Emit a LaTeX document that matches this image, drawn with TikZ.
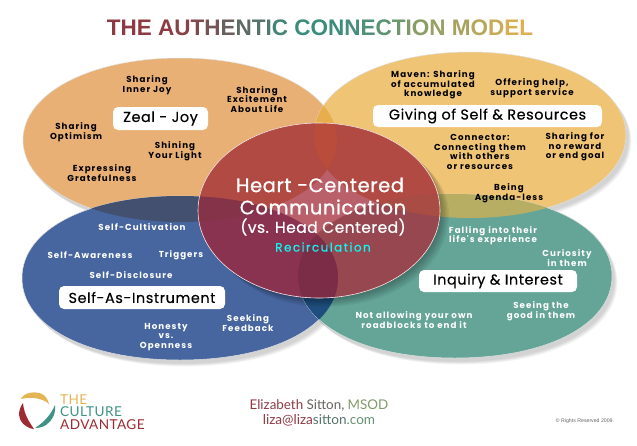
\documentclass[tikz,border=0pt]{standalone}
\usepackage{fontspec}
\usetikzlibrary{calc}
\setmainfont{Poppins}
\newfontfamily\itemfont[LetterSpace=12]{Poppins}
\newfontfamily\headfont[LetterSpace=4,FakeBold=0.3]{Poppins}
\newfontfamily\midfont[LetterSpace=3,FakeBold=0.9]{Poppins}
\newfontfamily\recfont[LetterSpace=12,FakeBold=0.5]{Poppins}
\newfontfamily\titlefont{Liberation Sans Bold}
\newfontfamily\footfont{Lato}
\newfontfamily\logofont[LetterSpace=3]{Lato}
\newfontfamily\copyfont{Liberation Sans}
\definecolor{cOr}{HTML}{E8B074}
\definecolor{cYe}{HTML}{EFC475}
\definecolor{cBl}{HTML}{47659F}
\definecolor{cTe}{HTML}{64A598}
\definecolor{cOY}{HTML}{E8AE4E}
\definecolor{cOB}{HTML}{44506F}
\definecolor{cYT}{HTML}{B8AE63}
\definecolor{cBT}{HTML}{1F4E7E}
\definecolor{rBase}{HTML}{B04A43}
\definecolor{rOY}{HTML}{BA4C3C}
\definecolor{rBl}{HTML}{8A3350}
\definecolor{rTe}{HTML}{96474F}
\definecolor{rBT}{HTML}{7B2C47}
\definecolor{rOB}{HTML}{853349}
\definecolor{rYT}{HTML}{A94C44}
\definecolor{rAll}{HTML}{BA606A}
\definecolor{tRed}{HTML}{8E3A42}
\definecolor{tTeal}{HTML}{3C8C7C}
\definecolor{tGold}{HTML}{E0B050}
\definecolor{lGold}{HTML}{E5B455}
\definecolor{lTeal}{HTML}{3F9385}
\definecolor{lRed}{HTML}{9E2B33}
\definecolor{cCyan}{HTML}{10F5F0}
\newcommand{\blob}[5]{(#1-#3,#2) .. controls (#1-#3,#2-#5*#4) and (#1-#5*#3,#2-#4) .. (#1,#2-#4) .. controls (#1+#5*#3,#2-#4) and (#1+#3,#2-#5*#4) .. (#1+#3,#2) .. controls (#1+#3,#2+#5*#4) and (#1+#5*#3,#2+#4) .. (#1,#2+#4) .. controls (#1-#5*#3,#2+#4) and (#1-#3,#2+#5*#4) .. (#1-#3,#2) -- cycle}
\newcommand{\pOr}{\blob{180}{140}{157}{82}{0.57}}
\newcommand{\pYe}{\blob{470}{135}{156}{83}{0.57}}
\newcommand{\pBl}{\blob{180}{278}{158}{82}{0.59}}
\newcommand{\pTe}{\blob{455}{276}{157}{82}{0.59}}
\newcommand{\pCe}{\blob{319}{210.5}{121}{87.5}{0.5523}}
\newcommand{\tl}[2]{\textcolor{#2}{#1}}
\tikzset{
  x=1pt,y=-1pt,
  itemtxt/.style={align=center,inner sep=0pt,font=\itemfont\bfseries\fontsize{8.7}{9.6}\selectfont},
  dark/.style={itemtxt,text=black},
  light/.style={itemtxt,text=white},
  headbox/.style={fill=white,rounded corners=5pt,inner sep=0pt,anchor=center},
  headtxt/.style={inner sep=0pt,text=black,font=\headfont\fontsize{14.4}{16}\selectfont},
  midtxt/.style={inner sep=0pt,text=white,font=\midfont\fontsize{19.5}{21}\selectfont},
  rim/.style={draw=white!88!black,line width=0.5pt},
  logotxt/.style={inner sep=0pt,anchor=west,font=\logofont\fontsize{13.6}{14}\selectfont},
}
\begin{document}
\begin{tikzpicture}
\useasboundingbox (0,0) rectangle (637,445);
\fill[white] (0,0) rectangle (637,445);
% soft shadows
\foreach \s in {1,2,3,4,5}{
  \fill[black,opacity=0.035,shift={(2+\s*0.7,3+\s*0.7)}] \pOr;
  \fill[black,opacity=0.035,shift={(2+\s*0.7,3+\s*0.7)}] \pYe;
  \fill[black,opacity=0.035,shift={(2+\s*0.7,3+\s*0.7)}] \pBl;
  \fill[black,opacity=0.035,shift={(2+\s*0.7,3+\s*0.7)}] \pTe;
}
\fill[cOr] \pOr; \draw[rim] \pOr;
\fill[cYe] \pYe; \draw[rim] \pYe;
\begin{scope}\clip \pOr; \fill[cOY] \pYe; \end{scope}
\fill[cBl] \pBl; \draw[rim] \pBl;
\fill[cTe] \pTe; \draw[rim] \pTe;
\begin{scope}\clip \pOr; \fill[cOB] \pBl; \end{scope}
\begin{scope}\clip \pYe; \fill[cYT] \pTe; \end{scope}
\begin{scope}\clip \pBl; \fill[cBT] \pTe; \end{scope}
% shadow of the centre
\foreach \s in {1,2,3,4,5,6}{
  \fill[black,opacity=0.05,shift={(0.5+\s*0.4,0.5+\s*0.4)}] \blob{319}{210.5}{121+\s}{87.5+\s}{0.5523};
}
% centre and its sub-regions
\fill[rAll] \pCe;
\begin{scope}
\clip \pCe;
\fill[rBase] \pOr;
\fill[rBase] \pYe;
\begin{scope}\clip \pOr; \fill[rOY] \pYe; \end{scope}
\fill[rTe] \pTe;
\fill[rBl] \pBl;
\begin{scope}\clip \pBl; \fill[rBT] \pTe; \end{scope}
\begin{scope}\clip \pOr; \fill[rOB] \pBl; \end{scope}
\begin{scope}\clip \pYe; \fill[rYT] \pTe; \end{scope}
\end{scope}
\draw[white!85!rBase,line width=0.6pt] \pCe;

% title
\node (title) [inner sep=0pt,font=\titlefont\fontsize{22.5}{24}\selectfont] at (320,28)
{\tl{T}{tRed}\tl{H}{tRed}\tl{E}{tRed} \tl{A}{tRed}\tl{U}{tRed!92!tTeal}\tl{T}{tRed!80!tTeal}\tl{H}{tRed!68!tTeal}\tl{E}{tRed!55!tTeal}\tl{N}{tRed!42!tTeal}\tl{T}{tRed!30!tTeal}\tl{I}{tRed!20!tTeal}\tl{C}{tRed!10!tTeal} \tl{C}{tTeal}\tl{O}{tTeal}\tl{N}{tTeal}\tl{N}{tTeal!95!tGold}\tl{E}{tTeal!88!tGold}\tl{C}{tTeal!80!tGold}\tl{T}{tTeal!70!tGold}\tl{I}{tTeal!60!tGold}\tl{O}{tTeal!52!tGold}\tl{N}{tTeal!44!tGold} \tl{M}{tTeal!35!tGold}\tl{O}{tTeal!25!tGold}\tl{D}{tTeal!15!tGold}\tl{E}{tTeal!5!tGold}\tl{L}{tGold}};

% orange
\node (o1) [dark] at (147,85) {Sharing\\Inner Joy};
\node (o2) [dark] at (257,99.5) {Sharing\\Excitement\\About Life};
\node (o3) [dark] at (76,132) {Sharing\\Optimism};
\node (o4) [dark] at (175,151) {Shining\\Your Light};
\node (o5) [dark] at (102,173) {Expressing\\Gratefulness};
\node (ob) [headbox,minimum width=95,minimum height=23] at (160.5,118.5) {};
\node (ot) [headtxt] at (ob) {Zeal - Joy};
% yellow
\node (y1) [dark] at (433,85) {Maven: Sharing\\of accumulated\\knowledge};
\node (y2) [dark] at (532,88) {Offering help,\\support service};
\node (y3) [dark] at (480,152) {Connector:\\Connecting them\\with others\\or resources};
\node (y4) [dark] at (575,147) {Sharing for\\no reward\\or end goal};
\node (y5) [dark] at (509,193) {Being\\Agenda-less};
\node (yb) [headbox,minimum width=229,minimum height=22] at (487.5,116) {};
\node (yt) [headtxt] at (yb) {Giving of Self \& Resources};
% blue
\node (b1) [light] at (142,227) {Self-Cultivation};
\node (b2) [light] at (90,255) {Self-Awareness};
\node (b3) [light] at (181,255) {Triggers};
\node (b4) [light] at (131,275) {Self-Disclosure};
\node (b5) [light] at (248,323) {Seeking\\Feedback};
\node (b6) [light] at (166,337) {Honesty\\vs.\\Openness};
\node (bb) [headbox,minimum width=166,minimum height=23] at (142,297.5) {};
\node (bt) [headtxt] at (bb) {Self-As-Instrument};
% teal
\node (t1) [light] at (493,235.5) {Falling into their\\life's experience};
\node (t2) [light] at (567,258) {Curiosity\\in them};
\node (t3) [light] at (541,311) {Seeing the\\good in them};
\node (t4) [light] at (414,320) {Not allowing your own\\roadblocks to end it};
\node (tb) [headbox,minimum width=158,minimum height=22] at (498,281) {};
\node (tt) [headtxt] at (tb) {Inquiry \& Interest};
% centre text
\node (c1) [midtxt] at (320,185) {Heart -Centered};
\node (c2) [midtxt] at (323,207) {Communication};
\node (c3) [midtxt,font=\midfont\fontsize{15.5}{17}\selectfont] at (323,227) {(vs. Head Centered)};
\node (c4) [inner sep=0pt,text=cCyan,font=\recfont\fontsize{12}{13}\selectfont] at (323,247) {Recirculation};

% logo
\fill[lGold] (21,399) .. controls (24,392) and (36,391) .. (42,394) .. controls (46,396) and (48,400) .. (49,404) .. controls (44,399) and (32,396) .. (21,399) -- cycle;
\fill[lRed] (23,403) .. controls (17,411) and (18,421) .. (26,426) .. controls (29,428) and (31,429) .. (34,429) .. controls (30,423) and (24,415) .. (23,403) -- cycle;
\fill[lTeal] (55,405) .. controls (56,414) and (52,421) .. (46,425) .. controls (43,427) and (39,428) .. (35,428) .. controls (43,423) and (51,415) .. (55,405) -- cycle;
\node (l1) [logotxt,text=lGold] at (60,399.5) {THE};
\node (l2) [logotxt,text=lTeal] at (60,412) {CULTURE};
\node (l3) [logotxt,text=lRed] at (60,424.5) {ADVANTAGE};

% footer
\node (f1) [inner sep=0pt,font=\footfont\fontsize{13.4}{15}\selectfont] at (319,405)
{\textcolor{tRed}{Elizabeth} \textcolor{tRed!50!tTeal}{Sitton,} \textcolor{tTeal!60!tGold}{MSOD}};
\node (f2) [inner sep=0pt,font=\footfont\fontsize{13.6}{15}\selectfont] at (319,420)
{\textcolor{tRed}{liza@liza}\textcolor{tRed!30!tTeal}{sitton}\textcolor{tTeal!75!tGold}{.com}};
\node (f3) [inner sep=0pt,text=black!60,font=\copyfont\fontsize{5.2}{6}\selectfont] at (585,421) {© Rights Reserved 2009.};
\end{tikzpicture}
\end{document}
